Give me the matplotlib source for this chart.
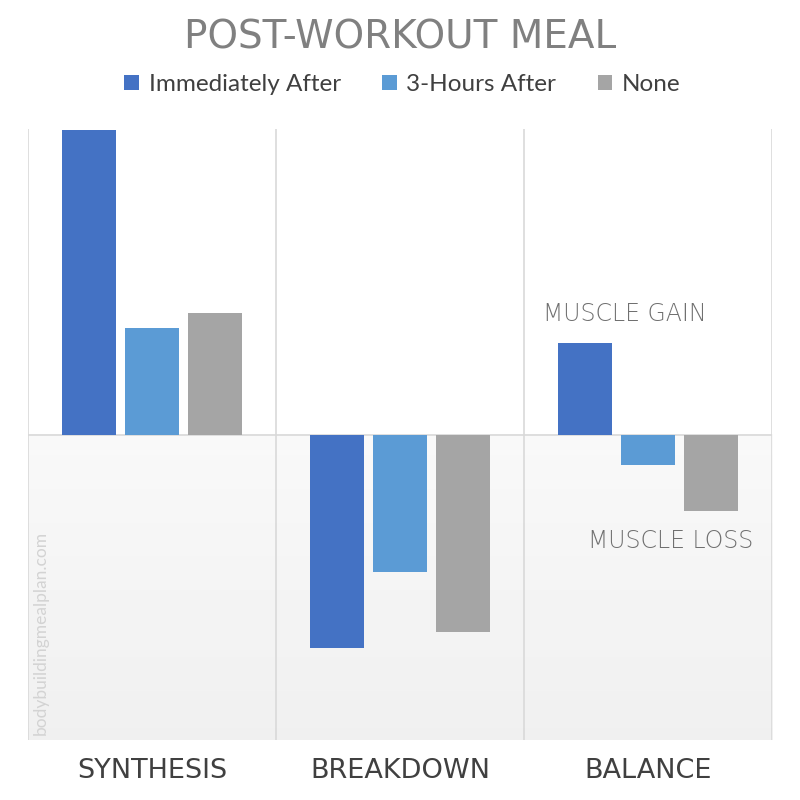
import numpy as np
import matplotlib
matplotlib.use("Agg")
from matplotlib import pyplot as plt

categories = ["SYNTHESIS", "BREAKDOWN", "BALANCE"]
series = ["Immediately After", "3-Hours After", "None"]
immediately = [305, -213, 92]
three_hours = [107, -137, -30]
none = [122, -197, -76]
colors = ["#4472C4", "#5B9BD5", "#A5A5A5"]

plt.rcParams["font.family"] = ["Lato", "DejaVu Sans"]

fig = plt.figure(figsize=(8, 8), dpi=100)
ax = fig.add_axes([0.035, 0.075, 0.93, 0.764])
ymin, ymax = -305, 306
ax.set_xlim(-0.5, 2.5)
ax.set_ylim(ymin, ymax)

# light gradient under the zero line
grad = np.linspace(0.975, 0.94, 100).reshape(-1, 1)
ax.imshow(grad, cmap="gray", vmin=0, vmax=1, aspect="auto",
          extent=(-0.5, 2.5, ymin, 0), zorder=0)

x = np.arange(len(categories))
width = 0.214
offset = 0.254
for i, (vals, name) in enumerate(zip([immediately, three_hours, none], series)):
    ax.bar(x + (i - 1) * offset, vals, width, color=colors[i], label=name, zorder=3)

for b in [-0.5, 0.5, 1.5, 2.5]:
    ax.axvline(b, color="#d9d9d9", lw=1.2, zorder=2)
ax.axhline(0, color="#d9d9d9", lw=1.2, zorder=2)

for s in ax.spines.values():
    s.set_visible(False)
ax.set_yticks([])
ax.set_xticks(x)
ax.set_xticklabels(categories, fontsize=19.5, color="#404040", family="DejaVu Sans")
ax.tick_params(axis="x", length=0, pad=13)

ax.text(1.907, 121, "MUSCLE GAIN", fontsize=17, color="#707070", ha="center", va="center",
        family="DejaVu Sans", fontweight="light")
ax.text(2.093, -106, "MUSCLE LOSS", fontsize=17, color="#707070", ha="center", va="center",
        family="DejaVu Sans", fontweight="light")

ax.text(-0.45, -300, "bodybuildingmealplan.com", rotation=90, fontsize=12.5,
        color="#d3d3d3", ha="center", va="bottom")

fig.text(0.5, 0.953, "POST-WORKOUT MEAL", ha="center", va="center",
         fontsize=28, color="#808080", family="DejaVu Sans")
fig.legend(loc="center", bbox_to_anchor=(0.503, 0.894), ncol=3, frameon=False,
           fontsize=17.5, handlelength=0.6, handleheight=0.6, handletextpad=0.4,
           columnspacing=1.7, labelcolor="#404040")

plt.savefig("out.png")
plt.close()
